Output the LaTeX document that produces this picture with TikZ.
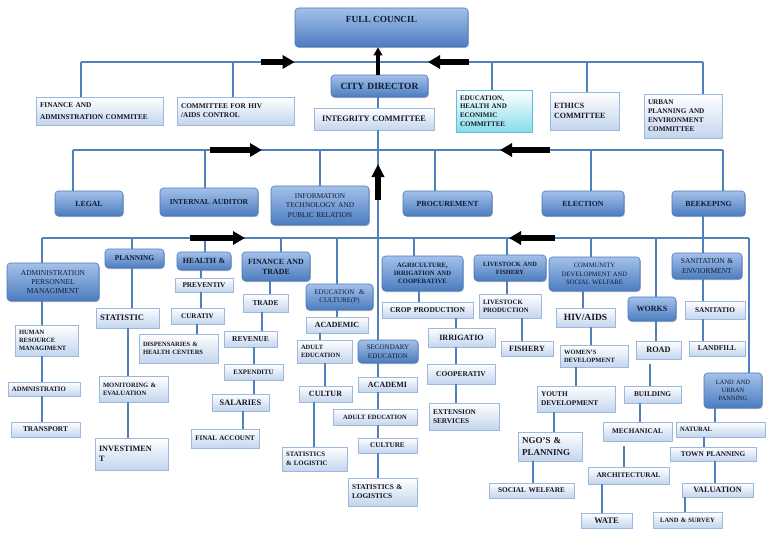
\documentclass[tikz,border=0pt]{standalone}
\usepackage{fontspec}
\setmainfont{Liberation Serif}
\usetikzlibrary{arrows.meta,shadows}
\definecolor{busc}{HTML}{4F81BD}
\definecolor{dtop}{HTML}{A3C1EA}
\definecolor{dbot}{HTML}{4C7CBF}
\definecolor{dbord}{HTML}{4A78B8}
\definecolor{dtext}{HTML}{101C30}
\definecolor{dshad}{HTML}{7E91B0}
\definecolor{lbot}{HTML}{C3D5EE}
\definecolor{lbord}{HTML}{9DB8DE}
\definecolor{lshad}{HTML}{2F4F80}
\definecolor{ltext}{HTML}{161622}
\definecolor{cbot}{HTML}{86DCEC}
\definecolor{cbord}{HTML}{5CC4D8}
\tikzset{
 dbox/.style={draw=dbord, line width=0.6pt, rounded corners=3.5pt, top color=dtop, bottom color=dbot, text=dtext, align=center, inner ysep=1pt,
   drop shadow={shadow xshift=0.8pt, shadow yshift=-1pt, fill=dshad, opacity=0.6}},
 dboxb/.style={dbox, execute at begin node=\bfseries},
 lbox/.style={draw=lbord, line width=0.6pt, top color=white, bottom color=lbot, text=ltext, align=center, inner ysep=1pt,
   execute at begin node=\bfseries,
   drop shadow={shadow xshift=1.3pt, shadow yshift=-1.3pt, fill=lshad, opacity=0.95}},
 lboxl/.style={lbox, align=left},
 cbox/.style={lbox, align=left, bottom color=cbot, draw=cbord},
 bus/.style={draw=busc, line width=1.6pt},
 colln/.style={draw=busc, line width=2pt},
 blkarrow/.style={draw=black, line width=6.5pt, -{Triangle[length=12pt,width=13pt]}},
 upsmall/.style={draw=black, line width=4pt, -{Triangle[length=8pt,width=8.5pt]}},
 upbig/.style={draw=black, line width=6pt, -{Triangle[length=13pt,width=12pt]}},
}
\newcommand\mkbox[8]{%
 \pgfmathsetmacro\bxcx{(#3+#5)/2}%
 \pgfmathsetmacro\bxcy{(#4+#6)/2}%
 \pgfmathsetmacro\bxw{#5-#3}%
 \pgfmathsetmacro\bxh{#6-#4}%
 \pgfmathsetmacro\bxtw{#5-#3-8}%
 \pgfmathsetmacro\bxls{#7*1.25}%
 \node[#1,minimum width=\bxw pt,minimum height=\bxh pt,text width=\bxtw pt,inner xsep=4pt,font=\fontsize{#7}{\bxls}\selectfont] (#2) at (\bxcx,\bxcy) {#8};}
\newcommand\mkvl[3]{\draw[colln] (#1,0 |- #2.south) -- (#1,0 |- #3.north);}
\newcommand\mkdrop[3]{\draw[bus] (#1,0 |- #2) -- (#1,0 |- #3.north);}
\begin{document}
\begin{tikzpicture}[x=1pt,y=-1pt]
\fill[white] (0,0) rectangle (768,543);
\useasboundingbox (0,0) rectangle (768,543);
% ---------- top level ----------
\node[dboxb, minimum width=173pt, minimum height=39pt, text height=10pt, text depth=19pt, inner ysep=5pt,
  font=\fontsize{9.3}{11}\selectfont] (fc) at (381.5,27.5) {FULL COUNCIL};
\mkbox{dboxb}{cd}{331}{75}{428}{97}{9.5}{CITY~DIRECTOR}
\mkbox{lboxl}{fac}{36}{97}{163}{125}{7.3}{FINANCE~AND\\[2.5pt] ADMINSTRATION~COMMITEE}
\mkbox{lboxl}{hiv}{177}{97}{294}{125}{7.3}{COMMITTEE~FOR~HIV\\ /AIDS~CONTROL}
\mkbox{lbox}{integ}{314}{108}{434}{130}{8.3}{INTEGRITY~COMMITTEE}
\mkbox{cbox}{ehe}{456}{90}{532}{132}{7}{EDUCATION,\\ HEALTH~AND\\ ECONIMIC\\ COMMITTEE}
\mkbox{lboxl}{eth}{550}{92}{619}{130}{8}{ETHICS\\ COMMITTEE}
\mkbox{lboxl}{urb}{644}{94}{722}{138}{7.2}{URBAN\\ PLANNING~AND\\ ENVIRONMENT\\ COMMITTEE}
% ---------- second level ----------
\mkbox{dboxb}{legal}{55}{191}{123}{216}{7.8}{LEGAL}
\mkbox{dboxb}{aud}{160}{188}{258}{216}{7.6}{INTERNAL~AUDITOR}
\mkbox{dbox}{ict}{271}{186}{369}{225}{7.3}{INFORMATION\\ TECHNOLOGY~AND\\ PUBLIC~RELATION}
\mkbox{dboxb}{proc}{403}{191}{492}{216}{7.8}{PROCUREMENT}
\mkbox{dboxb}{elec}{542}{191}{624}{216}{7.8}{ELECTION}
\mkbox{dboxb}{bee}{672}{191}{745}{216}{7.8}{BEEKEPING}
% ---------- third level: administration ----------
\mkbox{dbox}{adm}{7}{263}{99}{301}{7.5}{ADMINISTRATION\\ PERSONNEL\\ MANAGIMENT}
\mkbox{lboxl}{hr}{15}{325}{78}{356}{6.5}{HUMAN\\ RESOURCE\\ MANAGIMENT}
\mkbox{lboxl}{admn}{8}{382}{80}{396}{6.8}{ADMNISTRATIO}
\mkbox{lbox}{trans}{11}{422}{80}{437}{7.3}{TRANSPORT}
% planning
\mkbox{dboxb}{plan}{105}{249}{164}{268}{7.4}{PLANNING}
\mkbox{lboxl}{stat}{96}{308}{159}{328}{8.5}{STATISTIC}
\mkbox{lboxl}{mon}{99}{376}{168}{402}{6.6}{MONITORING~\&\\ EVALUATION}
\mkbox{lboxl}{inv}{95}{438}{168}{470}{8.2}{INVESTIMEN\\ T}
% health
\mkbox{dboxb}{hlth}{177}{252}{231}{270}{7.9}{HEALTH~\&}
\mkbox{lbox}{prev}{175}{278}{233}{292}{7.3}{PREVENTIV}
\mkbox{lbox}{cur}{171}{308}{224}{324}{7.1}{CURATIV}
\mkbox{lboxl}{disp}{139}{334}{218}{363}{6.5}{DISPENSARIES~\&\\ HEALTH~CENTERS}
% finance
\mkbox{dboxb}{fin}{242}{252}{310}{281}{7.9}{FINANCE~AND\\ TRADE}
\mkbox{lbox}{trade}{243}{294}{288}{312}{7.4}{TRADE}
\mkbox{lbox}{rev}{224}{331}{277}{347}{7.5}{REVENUE}
\mkbox{lbox}{exp}{224}{364}{283}{380}{6.8}{EXPENDITU}
\mkbox{lbox}{sal}{212}{394}{269}{411}{8.3}{SALARIES}
\mkbox{lbox}{facc}{191}{429}{259}{448}{7}{FINAL~ACCOUNT}
% education & culture
\mkbox{dbox}{edu}{306}{284}{373}{310}{7}{EDUCATION~~\&\\ CULTURE(P)}
\mkbox{lbox}{acad}{306}{317}{368}{333}{7.9}{ACADEMIC}
\mkbox{lboxl}{adult}{297}{340}{352}{363}{6.5}{ADULT\\ EDUCATION}
\mkbox{lbox}{cult}{299}{386}{352}{402}{8}{CULTUR}
\mkbox{lboxl}{stl}{282}{447}{347}{471}{6.8}{STATISTICS\\ \&~LOGISTIC}
% secondary education
\mkbox{dbox}{sec}{358}{340}{418}{363}{7}{SECONDARY\\ EDUCATION}
\mkbox{lbox}{acad2}{358}{377}{417}{392}{8}{ACADEMI}
\mkbox{lbox}{adult2}{333}{409}{417}{425}{6.5}{ADULT~EDUCATION}
\mkbox{lbox}{cult2}{358}{438}{417}{453}{7.2}{CULTURE}
\mkbox{lboxl}{stl2}{348}{478}{417}{506}{7.3}{STATISTICS~\&\\ LOGISTICS}
% agriculture
\mkbox{dboxb}{agr}{382}{256}{463}{291}{6.6}{AGRICULTURE,\\ IRRIGATION~AND\\ COOPERATIVE}
\mkbox{lbox}{crop}{382}{302}{473}{318}{7.5}{CROP~PRODUCTION}
\mkbox{lbox}{irr}{428}{328}{495}{347}{8.1}{IRRIGATIO}
\mkbox{lbox}{coop}{427}{364}{495}{384}{7.4}{COOPERATIV}
\mkbox{lboxl}{ext}{429}{403}{499}{430}{7.3}{EXTENSION\\ SERVICES}
% livestock
\mkbox{dboxb}{live}{474}{255}{546}{281}{6.4}{LIVESTOCK~AND\\ FISHERY}
\mkbox{lboxl}{lprod}{479}{294}{541}{318}{6.7}{LIVESTOCK\\ PRODUCTION}
\mkbox{lbox}{fish}{501}{341}{553}{356}{8.1}{FISHERY}
% community development
\mkbox{dbox}{comm}{549}{257}{640}{291}{6.6}{COMMUNITY\\ DEVELOPMENT~AND\\ SOCIAL~WELFARE}
\mkbox{lbox}{hiva}{556}{308}{615}{327}{9.5}{HIV/AIDS}
\mkbox{lboxl}{wom}{560}{345}{628}{367}{6.5}{WOMEN'S\\ DEVELOPMENT}
\mkbox{lboxl}{youth}{537}{386}{615}{412}{7.3}{YOUTH\\ DEVELOPMENT}
\mkbox{lboxl}{ngo}{518}{432}{582}{461}{9}{NGO'S~\&\\ PLANNING}
\mkbox{lbox}{socw}{489}{483}{574}{498}{7.3}{SOCIAL~WELFARE}
% works
\mkbox{dboxb}{works}{628}{297}{676}{321}{8}{WORKS}
\mkbox{lbox}{road}{636}{341}{681}{359}{8.3}{ROAD}
\mkbox{lbox}{bld}{624}{386}{681}{403}{7.3}{BUILDING}
\mkbox{lbox}{mech}{603}{422}{672}{441}{7.2}{MECHANICAL}
\mkbox{lbox}{arch}{588}{467}{669}{484}{7.2}{ARCHITECTURAL}
\mkbox{lbox}{wate}{581}{513}{632}{528}{8.5}{WATE}
% sanitation
\mkbox{dbox}{san}{672}{253}{742}{279}{7.5}{SANITATION~\&\\ ENVIORMENT}
\mkbox{lbox}{sant}{685}{301}{745}{319}{7.3}{SANITATIO}
\mkbox{lbox}{landf}{689}{341}{745}{356}{7.4}{LANDFILL}
% land and urban
\mkbox{dbox}{lup}{704}{373}{762}{408}{6.5}{LAND~AND\\ URBAN\\ PANNING}
\mkbox{lboxl}{nat}{676}{422}{765}{437}{6.6}{NATURAL}
\mkbox{lbox}{town}{670}{447}{756}{461}{7.3}{TOWN~PLANNING}
\mkbox{lbox}{val}{682}{483}{753}{497}{8.2}{VALUATION}
\mkbox{lbox}{lsur}{653}{512}{722}{528}{6.5}{LAND~\&~SURVEY}
% ---------- bus lines ----------
\coordinate (b1) at (0,62);
\coordinate (b2) at (0,150);
\coordinate (b3) at (0,238);
\draw[bus] (81,0 |- b1) -- (703,0 |- b1);
\mkdrop{81}{b1}{fac}
\mkdrop{233}{b1}{hiv}
\mkdrop{492}{b1}{ehe}
\mkdrop{587}{b1}{eth}
\mkdrop{703}{b1}{urb}
\draw[bus] (378,0 |- cd.south) -- (378,0 |- integ.north);
\draw[bus] (378,0 |- integ.south) -- (378,0 |- sec.north);
\draw[bus] (73,0 |- b2) -- (723,0 |- b2);
\mkdrop{73}{b2}{legal}
\mkdrop{205}{b2}{aud}
\mkdrop{320}{b2}{ict}
\mkdrop{435}{b2}{proc}
\mkdrop{591}{b2}{elec}
\mkdrop{723}{b2}{bee}
\draw[bus] (42,0 |- b3) -- (749,0 |- b3);
\mkdrop{42}{b3}{adm}
\mkdrop{132}{b3}{plan}
\mkdrop{205}{b3}{hlth}
\mkdrop{281}{b3}{fin}
\mkdrop{337}{b3}{edu}
\mkdrop{414}{b3}{agr}
\mkdrop{507}{b3}{live}
\mkdrop{591}{b3}{comm}
\mkdrop{656}{b3}{works}
\mkdrop{749}{b3}{lup}
\draw[bus] (703,0 |- bee.south) -- (703,0 |- san.north);
% ---------- column connectors ----------
\mkvl{42}{adm}{hr}
\mkvl{42}{hr}{admn}
\mkvl{42}{admn}{trans}
\mkvl{132}{plan}{stat}
\mkvl{128}{stat}{mon}
\mkvl{128}{mon}{inv}
\mkvl{201}{hlth}{prev}
\mkvl{201}{prev}{cur}
\mkvl{197}{cur}{disp}
\mkvl{270}{fin}{trade}
\mkvl{262}{trade}{rev}
\mkvl{254}{rev}{exp}
\mkvl{254}{exp}{sal}
\mkvl{243}{sal}{facc}
\mkvl{337}{edu}{acad}
\mkvl{320}{acad}{adult}
\mkvl{325}{adult}{cult}
\mkvl{314}{cult}{stl}
\mkvl{378}{sec}{acad2}
\mkvl{378}{acad2}{adult2}
\mkvl{378}{adult2}{cult2}
\mkvl{378}{cult2}{stl2}
\mkvl{419}{agr}{crop}
\mkvl{456}{crop}{irr}
\mkvl{456}{irr}{coop}
\mkvl{456}{coop}{ext}
\mkvl{507}{live}{lprod}
\mkvl{522}{lprod}{fish}
\mkvl{583}{comm}{hiva}
\mkvl{591}{hiva}{wom}
\mkvl{576}{wom}{youth}
\mkvl{554}{youth}{ngo}
\mkvl{533}{ngo}{socw}
\mkvl{656}{works}{road}
\coordinate (g1) at (650,364);
\draw[colln] (g1) -- (g1 |- bld.north);
\mkvl{640}{bld}{mech}
\coordinate (g2) at (624,446);
\draw[colln] (g2) -- (g2 |- arch.north);
\mkvl{602}{arch}{wate}
\mkvl{703}{san}{sant}
\mkvl{703}{sant}{landf}
\mkvl{715}{lup}{nat}
\mkvl{704}{nat}{town}
\mkvl{715}{town}{val}
\mkvl{685}{val}{lsur}
% ---------- black arrows ----------
\draw[blkarrow] (261,0 |- b1) -- (fc.west |- b1);
\draw[blkarrow] (469,0 |- b1) -- (428,0 |- b1);
\draw[blkarrow] (210,0 |- b2) -- (262,0 |- b2);
\draw[blkarrow] (550,0 |- b2) -- (500,0 |- b2);
\draw[blkarrow] (190,0 |- b3) -- (245,0 |- b3);
\draw[blkarrow] (555,0 |- b3) -- (509,0 |- b3);
\draw[upsmall] (378,0 |- cd.north) -- (378,0 |- fc.south);
\coordinate (u1) at (378,200);
\coordinate (u2) at (378,164);
\draw[upbig] (u1) -- (u2);
\end{tikzpicture}
\end{document}
